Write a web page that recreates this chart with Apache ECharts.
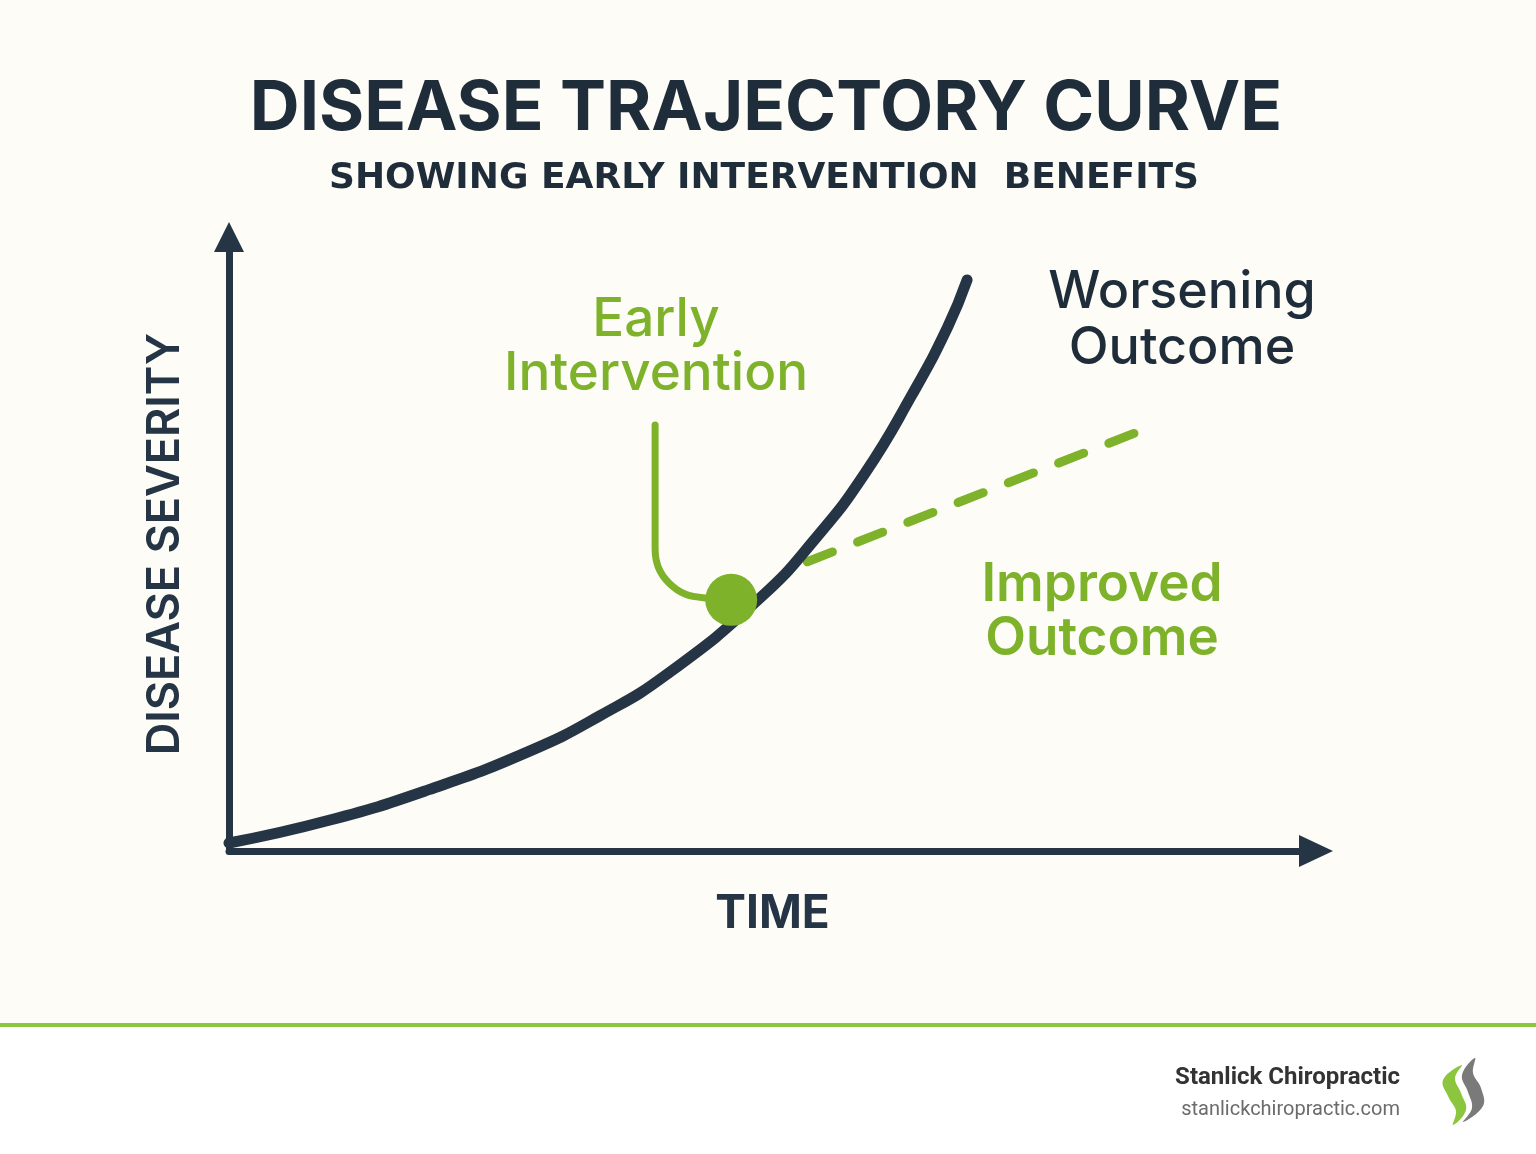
<!DOCTYPE html>
<html>
<head>
<meta charset="utf-8">
<title>Disease Trajectory Curve</title>
<script src="https://cdn.jsdelivr.net/npm/echarts@6/dist/echarts.min.js"></script>
<style>
	html, body { margin: 0; padding: 0; background: #fdfcf6; }
	#main { width: 1536px; height: 1154px; }
</style>
</head>
<body>
<div id="main"></div>
<script>
	'use strict'
	// time (0-100) / severity (0-100)
	var worseTime = [0, 9.2, 18.4, 27.7, 34.1, 40.3, 48.85, 54, 58.5, 62.8, 66.1, 67.9];
	var worseSeverity = [1.3, 5.0, 10.0, 16.3, 22.0, 28.8, 41.2, 51, 61.5, 74.2, 85.3, 93.0];
	var improvedTime = [53.2, 84.1];
	var improvedSeverity = [47.1, 68.6];
	var pointTime = [46.2];
	var pointSeverity = [40.9];
	var leaderTime = [39.2, 39.2, 39.5, 40.5, 42.0, 43.8];
	var leaderSeverity = [69.4, 49.3, 46.2, 43.6, 41.8, 41.2];

	var navy = '#253545';
	var green = '#7db22a';

	function pairs(xs, ys) {
		return xs.map(function (x, i) { return [x, ys[i]]; });
	}

	var chart = echarts.init(document.getElementById('main'));
	var option = {
		backgroundColor: '#fdfcf6',
		animation: false,
		title: [{
			text: 'DISEASE TRAJECTORY CURVE',
			left: 761,
			top: 70,
			textAlign: 'center',
			textStyle: {
				fontFamily: 'Inter',
				fontSize: 69,
				fontWeight: 700,
				color: '#1f2d3b'
			}
		}, {
			text: 'SHOWING EARLY INTERVENTION  BENEFITS',
			left: 759,
			top: 156,
			textAlign: 'center',
			textStyle: {
				fontFamily: 'DejaVu Sans',
				fontSize: 36,
				fontWeight: 'bold',
				color: '#1f2d3b'
			}
		}],
		grid: {
			left: 229,
			top: 237,
			right: 220,
			bottom: 303
		},
		xAxis: {
			type: 'value',
			min: 0,
			max: 100,
			name: 'TIME',
			nameLocation: 'middle',
			nameGap: 40,
			nameTextStyle: {
				fontFamily: 'Inter',
				fontSize: 46,
				fontWeight: 700,
				color: navy
			},
			axisLine: {
				symbol: ['none', 'triangle'],
				symbolSize: [32, 34],
				lineStyle: { color: navy, width: 7, cap: 'round' }
			},
			axisTick: { show: false },
			axisLabel: { show: false },
			splitLine: { show: false }
		},
		yAxis: {
			type: 'value',
			min: 0,
			max: 100,
			name: 'DISEASE SEVERITY',
			nameLocation: 'middle',
			nameGap: 41,
			nameTextStyle: {
				fontFamily: 'Inter',
				fontSize: 45,
				fontWeight: 600,
				color: navy
			},
			axisLine: {
				symbol: ['none', 'triangle'],
				symbolSize: [30, 30],
				lineStyle: { color: navy, width: 7, cap: 'round' }
			},
			axisTick: { show: false },
			axisLabel: { show: false },
			splitLine: { show: false }
		},
		series: [{
			name: 'Worsening',
			type: 'line',
			smooth: 0.5,
			showSymbol: false,
			data: pairs(worseTime, worseSeverity),
			lineStyle: { color: navy, width: 11, cap: 'round' },
			z: 3
		}, {
			name: 'Improved',
			type: 'line',
			showSymbol: false,
			data: pairs(improvedTime, improvedSeverity),
			lineStyle: { color: green, width: 9, type: [27, 27], cap: 'round' },
			z: 2
		}, {
			name: 'Leader',
			type: 'line',
			smooth: 0.3,
			showSymbol: false,
			data: pairs(leaderTime, leaderSeverity),
			lineStyle: { color: green, width: 7, cap: 'round' },
			z: 4
		}, {
			name: 'Intervention',
			type: 'scatter',
			symbolSize: 52,
			data: pairs(pointTime, pointSeverity),
			itemStyle: { color: green, opacity: 1 },
			z: 5
		}],
		graphic: [{
			type: 'text',
			x: 656, y: 347,
			style: {
				text: 'Early\nIntervention',
				fill: green,
				font: '500 53px Inter',
				lineHeight: 54,
				align: 'center',
				verticalAlign: 'middle'
			}
		}, {
			type: 'text',
			x: 1182, y: 320,
			style: {
				text: 'Worsening\nOutcome',
				fill: '#1f2d3b',
				font: '500 52px Inter',
				lineHeight: 56,
				align: 'center',
				verticalAlign: 'middle'
			}
		}, {
			type: 'text',
			x: 1102, y: 612,
			style: {
				text: 'Improved\nOutcome',
				fill: green,
				font: '600 53px Inter',
				lineHeight: 54,
				align: 'center',
				verticalAlign: 'middle'
			}
		}, {
			type: 'rect',
			shape: { x: 0, y: 1027, width: 1536, height: 127 },
			style: { fill: '#ffffff' },
			silent: true,
			z: -1
		}, {
			type: 'rect',
			shape: { x: 0, y: 1023, width: 1536, height: 4 },
			style: { fill: '#8cc63f' },
			silent: true
		}, {
			type: 'text',
			x: 1400, y: 1078,
			style: {
				text: 'Stanlick Chiropractic',
				fill: '#333333',
				font: 'bold 24px Roboto',
				align: 'right',
				verticalAlign: 'middle'
			}
		}, {
			type: 'text',
			x: 1400, y: 1110,
			style: {
				text: 'stanlickchiropractic.com',
				fill: '#6b6b6b',
				font: '20px Roboto',
				align: 'right',
				verticalAlign: 'middle'
			}
		}, {
			type: 'polygon',
			shape: {
				points: [[1475, 1058], [1462, 1075], [1468, 1092], [1472, 1108], [1463, 1122], [1483, 1106], [1481, 1088], [1473, 1073]],
				smooth: 0.4
			},
			style: { fill: '#7a7a7a' }
		}, {
			type: 'polygon',
			shape: {
				points: [[1462, 1065], [1443, 1080], [1449, 1098], [1456, 1111], [1453, 1125], [1466, 1110], [1461, 1093], [1455, 1078]],
				smooth: 0.4
			},
			style: { fill: '#8cc63f' }
		}]
	};
	chart.setOption(option);
</script>
</body>
</html>
